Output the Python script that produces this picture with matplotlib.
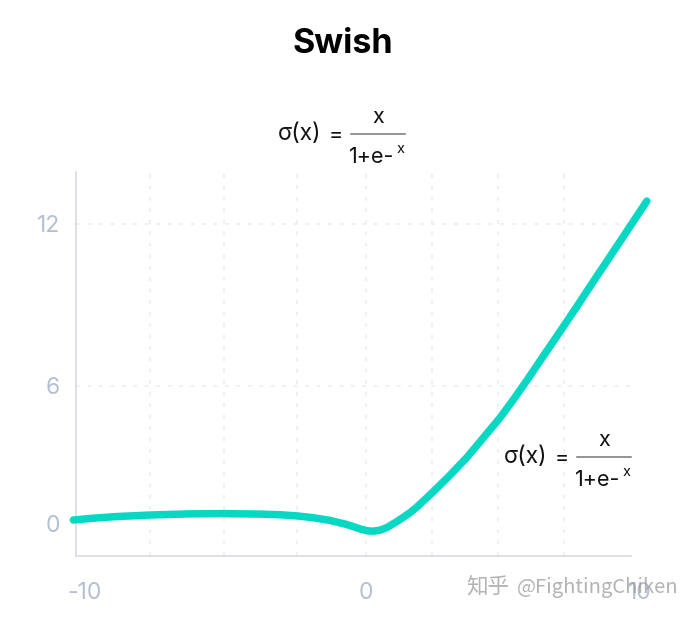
import numpy as np
import matplotlib
matplotlib.use("Agg")
import matplotlib.pyplot as plt
from matplotlib.lines import Line2D
from matplotlib.transforms import ScaledTranslation

W, H = 695, 617
plt.rcParams['font.family'] = ['Inter', 'DejaVu Sans']

# Curve values
curve_x = [-10.07, -9.4, -8.67, -7.5, -6.15, -5.03, -3.77, -3.08, -2.5, -1.92, -1.30,
           -0.69, -0.22, 0.04, 0.27, 0.53, 0.80, 1.17, 1.67, 1.93, 2.54, 3.18, 3.83, 4.43, 5.08,
           5.57, 6.10, 6.70, 7.35, 7.99, 8.58, 9.22, 9.85, 10.6]
curve_y = [0.13, 0.21, 0.28, 0.35, 0.40, 0.41, 0.39, 0.36, 0.31, 0.23, 0.11,
           -0.07, -0.26, -0.34, -0.36, -0.31, -0.19, 0.07, 0.46, 0.71, 1.37, 2.10, 2.89, 3.72, 4.62,
           5.39, 6.22, 7.09, 8.02, 8.96, 9.85, 10.80, 11.74, 12.85]
x_ticks = [-10, 0, 10]
x_labels = ['-10', '0', '10']
x_grid = [-7.5, -5, -2.5, 0, 2.5, 5, 7.5]
y_ticks = [0, 6, 12]
y_labels = ['0', '6', '12']
y_grid = [6, 12]

# The source axes are not evenly spaced: knots give data -> axes position
x_knots = np.array([-12, -10, -7.5, -5, -2.5, 0, 2.5, 5, 7.5, 10, 12])
x_pos = np.array([15, 75, 150, 224, 297, 366, 432, 498, 564, 631, 684], float)
y_knots = np.array([-3, 0, 6, 12, 16])
y_pos = np.array([591.5, 523, 386, 224, 116], float)

fig = plt.figure(figsize=(W / 100, H / 100), dpi=100, facecolor='white')
ax = fig.add_axes([75.5 / W, (H - 555.5) / H, 555.5 / W, 383.5 / H])

ax.set_xscale('function', functions=(lambda v: np.interp(v, x_knots, x_pos),
                                     lambda p: np.interp(p, x_pos, x_knots)))
ax.set_yscale('function', functions=(lambda v: -np.interp(v, y_knots, y_pos),
                                     lambda p: np.interp(-p, y_pos[::-1], y_knots[::-1])))
ax.set_xlim(-10, 10)
ax.set_ylim(np.interp(555.5, y_pos[::-1], y_knots[::-1]),
            np.interp(172, y_pos[::-1], y_knots[::-1]))

ax.plot(curve_x, curve_y, color='#07d8c3', lw=5.4, solid_capstyle='round',
        solid_joinstyle='round', clip_on=False, zorder=3)

for s in ['top', 'right']:
    ax.spines[s].set_visible(False)
for s in ['left', 'bottom']:
    ax.spines[s].set_color('#d3d8e0')
    ax.spines[s].set_linewidth(1.1)

tick_color = '#b4c0d2'
ax.xaxis.remove_overlapping_locs = False
ax.yaxis.remove_overlapping_locs = False
ax.set_xticks(x_ticks, x_labels)
ax.set_yticks(y_ticks, y_labels)
ax.set_xticks(x_grid, minor=True)
ax.set_yticks(y_grid, minor=True)
ax.xaxis.set_minor_formatter(plt.NullFormatter())
ax.yaxis.set_minor_formatter(plt.NullFormatter())
ax.tick_params(which='both', length=0)
ax.tick_params(axis='x', which='major', labelsize=16.5, labelcolor=tick_color, pad=19)
ax.tick_params(axis='y', which='major', labelsize=16.5, labelcolor=tick_color, pad=11)
ax.grid(False)
ax.grid(True, which='minor', color='#e8ecf1', lw=1.1, ls=(0, (2.5, 5)))
ax.set_axisbelow(True)

for lab, dx in zip(ax.get_xticklabels(), [9, 0, 9]):
    lab.set_transform(lab.get_transform() + ScaledTranslation(dx / 100, 0, fig.dpi_scale_trans))


def px(x, y):
    return x / W, 1 - y / H


def formula(x0, y0):
    """Draw the formula with its fraction bar starting at pixel (x0, y0)."""
    fig.text(*px(x0 - 73, y0), '\u03c3(x)', fontsize=16.5, va='center', ha='left', color='#111111')
    fig.text(*px(x0 - 15, y0 + 1), '=', fontsize=15.5, va='center', ha='center', color='#111111')
    fig.text(*px(x0 + 27, y0 - 17), 'x', fontsize=15.5, va='center', ha='center', color='#111111')
    fig.add_artist(Line2D([x0 / W, (x0 + 54) / W], [1 - y0 / H] * 2, color='#777777', lw=1.1))
    fig.text(*px(x0 - 2, y0 + 23), '1+e-', fontsize=15.5, va='center', ha='left', color='#111111')
    fig.text(*px(x0 + 46, y0 + 15), 'x', fontsize=10.5, va='center', ha='left', color='#111111')


fig.text(*px(342.5, 44), 'Swish', fontsize=24.5, fontweight='bold', ha='center', va='center', color='black')
formula(351, 134)
formula(577, 457)

mark_font = ['Noto Sans CJK SC', 'DejaVu Sans']
fig.text(*px(466, 587), '\u77e5\u4e4e', fontsize=15.5, ha='left', va='center',
         color='#9a9a9a', alpha=0.75, family=mark_font, zorder=10)
fig.text(*px(517, 587), '@FightingChiken', fontsize=14.5, ha='left', va='center',
         color='#9a9a9a', alpha=0.75, family=mark_font, zorder=10)

fig.savefig('out.png', dpi=100, facecolor='white')
